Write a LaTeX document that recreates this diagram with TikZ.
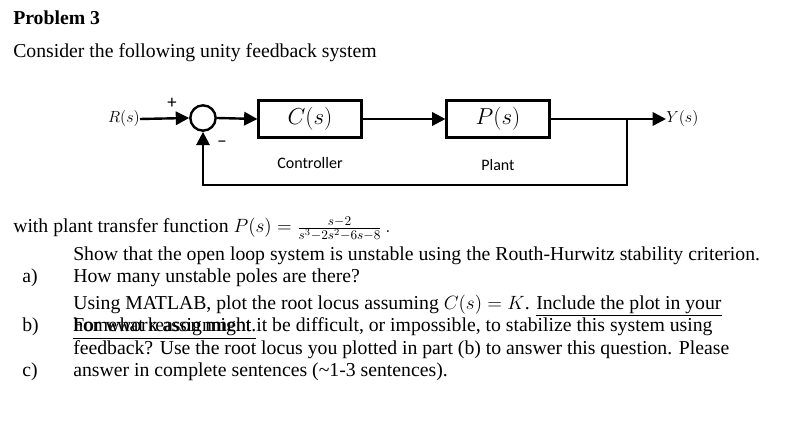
\documentclass[tikz,border=0pt]{standalone}
\usepackage{fontspec}
\setmainfont{Liberation Serif}
\newfontfamily\carl{Carlito}
\usetikzlibrary{arrows.meta}
\begin{document}
\begin{tikzpicture}[x=0.75pt,y=-0.75pt,
  txt/.style={anchor=base west,inner sep=0pt,font=\fontsize{14.8}{17}\selectfont},
  blk/.style={draw,line width=1.8pt,minimum width=77pt,minimum height=28pt,inner sep=0pt,font=\carl\fontsize{16}{18}\selectfont},
  lbl/.style={font=\carl\fontsize{12}{14}\selectfont,inner sep=0pt},
  sig/.style={line width=1.8pt,-{Triangle[length=10pt,width=10pt]}}]
\useasboundingbox (0,0) rectangle (794,441);
\node[txt,font=\bfseries\fontsize{14.8}{17}\selectfont] (t0) at (13,25) {Problem 3};
\node[txt] (t1) at (13,58) {Consider the following unity feedback system};
\node[draw,circle,line width=1.8pt,minimum size=19pt,inner sep=0pt] (sum) at (203,118) {};
\node[blk] (C) at (310,119) {$C(s)$};
\node[blk] (P) at (498,119) {$P(s)$};
\node[lbl,anchor=east] (R) at (140,119) {\fontsize{13}{14}\selectfont$R(s)$};
\node[lbl,anchor=west] (Y) at (666,119) {\fontsize{13}{14}\selectfont$Y(s)$};
\node[lbl] (plus) at (172,103) {\fontsize{14}{14}\selectfont+};
\node[lbl] (minus) at (222,144) {\fontsize{14}{14}\selectfont\textminus};
\node[lbl] (cl) at (310,163) {Controller};
\node[lbl] (pl) at (498,165) {Plant};
\coordinate (br) at (627,119);
\coordinate (bb) at (627,185);
\draw[sig] (R.east) -- (sum.west);
\draw[sig] (sum.east) -- (C.west);
\draw[sig] (C.east) -- (P.west);
\draw[sig] (P.east) -- (Y.west);
\draw[sig] (br) -- (bb) -| (sum.south);
\node[txt] (t2) at (13,233) {with plant transfer function $P(s)=\frac{s-2}{s^3-2s^2-6s-8}\,.$};
\node[txt] (qa) at (22,283) {a)};
\node[txt,anchor=base west,align=left] (ta) at (73,283) {Show that the open loop system is unstable using the Routh-Hurwitz stability criterion.\\How many unstable poles are there?};
\node[txt] (qb) at (22,332) {b)};
\node[txt,anchor=base west,align=left] (tb) at (73,332) {Using MATLAB, plot the root locus assuming $C(s)=K$. \underline{Include the plot in your}\\\underline{homework assignment.}};
\node[txt] (qc) at (22,377) {c)};
\node[txt,anchor=base west,align=left] (tc) at (73,377) {For what reason might it be difficult, or impossible, to stabilize this system using\\feedback? Use the root locus you plotted in part (b) to answer this question. Please\\answer in complete sentences (\textasciitilde1-3 sentences).};
\end{tikzpicture}
\end{document}
